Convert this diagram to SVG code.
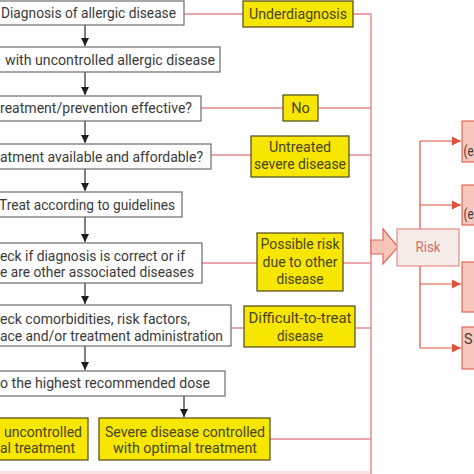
<svg xmlns="http://www.w3.org/2000/svg" width="474" height="474" viewBox="0 0 474 474">
<style>
  text { font-family: Roboto, "Liberation Sans", sans-serif; font-size: 14.5px; dominant-baseline: central; }
  .step rect { fill: #ffffff; stroke: #6b6b6b; stroke-width: 1.2; }
  .step text { fill: #3a3a3a; }
  .out rect { fill: #f6e600; stroke: #5c5520; stroke-width: 1.3; }
  .out text { fill: #4a4520; text-anchor: middle; }
  .risk rect { fill: #f7c7bc; stroke: #e2675a; stroke-width: 1.2; }
  .risk text { fill: #4a3a36; }
  .flow { stroke: #2a2a2a; stroke-width: 1.2; fill: none; marker-end: url(#ab); }
  .pink { stroke: #e4868a; stroke-width: 1.4; fill: none; }
  .red { stroke: #e0503f; stroke-width: 1.2; fill: none; }
  .redarr { stroke: #e0503f; stroke-width: 1.2; fill: none; marker-end: url(#ar); }
</style>
<defs>
  <marker id="ab" viewBox="0 0 10 10" refX="10" refY="5" markerWidth="8" markerHeight="8" markerUnits="userSpaceOnUse" orient="auto">
    <path d="M0,0 L10,5 L0,10 z" fill="#1e1e1e"/>
  </marker>
  <marker id="ar" viewBox="0 0 10 10" refX="10" refY="5" markerWidth="9" markerHeight="9" markerUnits="userSpaceOnUse" orient="auto">
    <path d="M0,0 L10,5 L0,10 z" fill="#e0503f"/>
  </marker>
</defs>
<rect width="474" height="474" fill="#ffffff"/>
<rect x="0" y="471" width="370" height="3" fill="#fbe2e2"/>

<g id="connectors">
  <line class="flow" x1="85" y1="25" x2="85" y2="46"/>
  <line class="flow" x1="85" y1="72" x2="85" y2="95"/>
  <line class="flow" x1="85" y1="121" x2="85" y2="143"/>
  <line class="flow" x1="85" y1="169" x2="85" y2="191"/>
  <line class="flow" x1="85" y1="217" x2="85" y2="242"/>
  <line class="flow" x1="85" y1="283" x2="85" y2="304"/>
  <line class="flow" x1="85" y1="346" x2="85" y2="370"/>
  <line class="flow" x1="184" y1="396" x2="184" y2="417"/>
  <polyline class="pink" points="184,14 243,14"/>
  <polyline class="pink" points="353,14 371,14 371,474"/>
  <line class="pink" x1="201" y1="108" x2="283" y2="108"/>
  <line class="pink" x1="318" y1="108" x2="371" y2="108"/>
  <line class="pink" x1="211" y1="155" x2="251" y2="155"/>
  <line class="pink" x1="349" y1="155" x2="371" y2="155"/>
  <line class="pink" x1="202" y1="263" x2="257" y2="263"/>
  <line class="pink" x1="343" y1="263" x2="371" y2="263"/>
  <line class="pink" x1="231" y1="328" x2="244" y2="328"/>
  <line class="pink" x1="355" y1="328" x2="371" y2="328"/>
  <line class="pink" x1="270" y1="439" x2="371" y2="439"/>
  <line class="red" x1="420" y1="141" x2="420" y2="348"/>
  <polyline class="redarr" points="420,141 461,141"/>
  <polyline class="redarr" points="420,205 461,205"/>
  <polyline class="redarr" points="420,284 461,284"/>
  <polyline class="redarr" points="420,348 461,348"/>
  <path d="M371,240 L383,240 L383,229 L398,247 L383,264 L383,254 L371,254 Z" fill="#f7c5b8" stroke="#e2675a" stroke-width="1.2"/>
</g>

<g id="n1" class="step"><rect x="-10" y="1" width="194" height="24"/><text x="1" y="13" textLength="175" lengthAdjust="spacingAndGlyphs">Diagnosis of allergic disease</text></g>
<g id="n2" class="step"><rect x="-10" y="47" width="230" height="25"/><text x="5" y="60" textLength="210" lengthAdjust="spacingAndGlyphs">with uncontrolled allergic disease</text></g>
<g id="n3" class="step"><rect x="-10" y="96" width="211" height="25"/><text x="0" y="108" textLength="192" lengthAdjust="spacingAndGlyphs">reatment/prevention effective?</text></g>
<g id="n4" class="step"><rect x="-10" y="144" width="221" height="25"/><text x="0" y="157" textLength="203" lengthAdjust="spacingAndGlyphs">atment available and affordable?</text></g>
<g id="n5" class="step"><rect x="-10" y="192" width="192" height="25"/><text x="-1" y="205" textLength="176" lengthAdjust="spacingAndGlyphs">Treat according to guidelines</text></g>
<g id="n6" class="step"><rect x="-10" y="243" width="212" height="40"/><text x="0" y="256" textLength="185" lengthAdjust="spacingAndGlyphs">eck if diagnosis is correct or if</text><text x="0" y="272" textLength="194" lengthAdjust="spacingAndGlyphs">e are other associated diseases</text></g>
<g id="n7" class="step"><rect x="-10" y="305" width="241" height="41"/><text x="0" y="319" textLength="190" lengthAdjust="spacingAndGlyphs">eck comorbidities, risk factors,</text><text x="0" y="336" textLength="223" lengthAdjust="spacingAndGlyphs">ace and/or treatment administration</text></g>
<g id="n8" class="step"><rect x="-10" y="371" width="235" height="25"/><text x="0" y="383" textLength="210" lengthAdjust="spacingAndGlyphs">o the highest recommended dose</text></g>

<g id="o1" class="out"><rect x="243" y="1" width="110" height="26"/><text x="298" y="14" textLength="98" lengthAdjust="spacingAndGlyphs">Underdiagnosis</text></g>
<g id="o2" class="out"><rect x="283" y="95" width="35" height="26"/><text x="300.5" y="108">No</text></g>
<g id="o3" class="out"><rect x="251" y="136" width="98" height="41"/><text x="300" y="147" textLength="62" lengthAdjust="spacingAndGlyphs">Untreated</text><text x="300" y="164" textLength="92" lengthAdjust="spacingAndGlyphs">severe disease</text></g>
<g id="o4" class="out"><rect x="257" y="233" width="86" height="58"/><text x="300" y="244" textLength="79" lengthAdjust="spacingAndGlyphs">Possible risk</text><text x="300" y="262" textLength="75" lengthAdjust="spacingAndGlyphs">due to other</text><text x="300" y="279" textLength="47" lengthAdjust="spacingAndGlyphs">disease</text></g>
<g id="o5" class="out"><rect x="244" y="306" width="111" height="41"/><text x="300" y="318" textLength="103" lengthAdjust="spacingAndGlyphs">Difficult-to-treat</text><text x="300" y="336" textLength="46" lengthAdjust="spacingAndGlyphs">disease</text></g>
<g id="o6" class="out"><rect x="-10" y="418" width="98" height="42"/><text x="43" y="432" textLength="78" lengthAdjust="spacingAndGlyphs">uncontrolled</text><text x="37.5" y="448" textLength="75" lengthAdjust="spacingAndGlyphs">al treatment</text></g>
<g id="o7" class="out"><rect x="99" y="418" width="171" height="42"/><text x="185" y="432" textLength="160" lengthAdjust="spacingAndGlyphs">Severe disease controlled</text><text x="185" y="448" textLength="144" lengthAdjust="spacingAndGlyphs">with optimal treatment</text></g>

<g id="risk"><rect x="397" y="229" width="62" height="37" fill="#f6ece9" stroke="#e98b84" stroke-width="1.2"/><text x="428" y="247" text-anchor="middle" fill="#d86b66" textLength="25" lengthAdjust="spacingAndGlyphs">Risk</text></g>

<g id="r1" class="risk"><rect x="462" y="121" width="20" height="41"/><text x="463.5" y="151" textLength="10" lengthAdjust="spacingAndGlyphs">(e</text></g>
<g id="r2" class="risk"><rect x="462" y="185" width="20" height="40"/><text x="463.5" y="214" textLength="10" lengthAdjust="spacingAndGlyphs">(e</text></g>
<g id="r3" class="risk"><rect x="462" y="262" width="20" height="50"/></g>
<g id="r4" class="risk"><rect x="462" y="327" width="20" height="42"/><text x="464" y="339">S</text></g>
</svg>
